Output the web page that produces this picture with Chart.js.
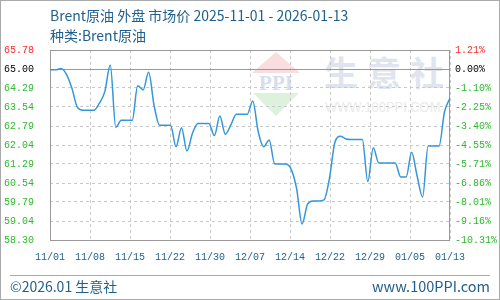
<!DOCTYPE html>
<html>
<head>
<meta charset="utf-8">
<script src="https://cdn.jsdelivr.net/npm/chart.js"></script>
<style>
  html, body { margin: 0; padding: 0; background: #fff; }
  #wrap { position: relative; width: 500px; height: 300px; overflow: hidden; }
  #frame { position: absolute; left: 0; top: 0; width: 500px; height: 300px; box-sizing: border-box; border: 1px solid #aaa; z-index: 3; }
  #chart { position: absolute; left: 0; top: 0; z-index: 1; }
  .txt { position: absolute; z-index: 2; white-space: nowrap; color: #1f5f8b;
         font-family: 'Noto Sans CJK SC', 'Noto Sans', sans-serif; font-size: 14px; line-height: 20px; }
  .wm { position: absolute; z-index: 0; white-space: nowrap; }
  #footLine { position: absolute; left: 10px; top: 275px; width: 480px; height: 1px; background: #aaa; z-index: 2; }
</style>
</head>
<body>
<div id="wrap">
  <!-- watermark -->
  <svg class="wm" width="50" height="66" style="left:251px;top:51px">
    <polygon points="25,1 49,22 1,22" fill="#f8dede"/>
    <text x="25" y="39" text-anchor="middle" font-family="Liberation Serif" font-weight="bold" font-size="21" fill="#d7deeb">PPI</text>
    <polygon points="2,42 48,42 25,65" fill="#ddf1dd"/>
  </svg>
  <div class="wm" style="left:324px;top:54px;font-family:'Noto Sans CJK SC';font-weight:bold;font-size:34px;line-height:36px;letter-spacing:9px;color:#dfe4ee">生意社</div>
  <div class="wm" style="left:325px;top:98px;font-family:'Liberation Sans';font-size:15px;line-height:18px;color:#ebebeb;transform:scaleX(0.86);transform-origin:left top">WWW.100PPI.COM</div>

  <canvas id="chart" width="500" height="300"></canvas>

  <div class="txt" style="left:50px;top:5px">Brent原油 外盘 市场价 2025-11-01 - 2026-01-13</div>
  <div class="txt" style="left:50px;top:25px">种类:Brent原油</div>
  <div id="footLine"></div>
  <div class="txt" style="left:10px;top:276px">©2026.01 生意社</div>
  <div class="txt" style="right:10px;top:276px;font-size:14.5px">www.100PPI.com</div>
  <div id="frame"></div>
</div>

<script>
// daily price, 2025-11-01 .. 2026-01-13
const prices = [
  65.00, 65.00, 65.05, 64.82, 64.27, 63.52, 63.41, 63.41, 63.41, 63.68,
  64.14, 65.19, 62.74, 63.01, 63.01, 63.01, 64.37, 64.21, 64.90, 63.59,
  62.82, 62.82, 62.82, 61.97, 62.72, 61.80, 62.50, 62.89, 62.89, 62.89,
  62.41, 63.18, 62.46, 62.83, 63.25, 63.25, 63.25, 63.77, 62.56, 61.97,
  62.24, 61.30, 61.29, 61.29, 61.09, 60.33, 58.93, 59.71, 59.84, 59.84,
  59.88, 60.73, 62.15, 62.38, 62.28, 62.26, 62.26, 62.26, 60.60, 61.93,
  61.33, 61.33, 61.33, 61.33, 60.78, 60.78, 61.75, 60.82, 59.99, 62.00,
  62.00, 62.00, 63.35, 63.89
];
const xLabels = ['11/01', '11/08', '11/15', '11/22', '11/30', '12/07', '12/14', '12/22', '12/29', '01/05', '01/13'];
const leftLabels = ['58.30', '59.04', '59.79', '60.54', '61.29', '62.04', '62.79', '63.54', '64.29', '65.00', '65.78'];
const rightLabels = ['-10.31%', '-9.16%', '-8.01%', '-6.86%', '-5.71%', '-4.55%', '-3.40%', '-2.25%', '-1.10%', '0.00%', '1.21%'];
const yMin = 58.30;
const yMax = 65.78;
const baseIndex = leftLabels.indexOf('65.00');

const lastDay = prices.length - 1;
const xTickValues = xLabels.map((_, i) => i * lastDay / (xLabels.length - 1));
const yTickValues = leftLabels.map((_, i) => yMin + i * (yMax - yMin) / (leftLabels.length - 1));

const tickFont = { family: "'Liberation Mono', 'DejaVu Sans Mono', monospace", size: 10 };

function labelColor(ctx) {
  if (ctx.index === leftLabels.length - 1) return '#ff2a2a';
  if (ctx.index === baseIndex) return '#000000';
  return '#2eb82e';
}

// frame round the plot and the solid 0% line
const plotFrame = {
  id: 'plotFrame',
  beforeDatasetsDraw(chart) {
    const { ctx, chartArea: a, scales } = chart;
    const yBase = Math.round(scales.y.getPixelForTick(baseIndex)) + 0.5;
    ctx.save();
    ctx.strokeStyle = '#999';
    ctx.lineWidth = 1;
    ctx.beginPath();
    ctx.moveTo(a.left, yBase);
    ctx.lineTo(a.right, yBase);
    ctx.stroke();
    ctx.strokeRect(Math.round(a.left) + 0.5, Math.round(a.top) + 0.5,
                   Math.round(a.width) - 1, Math.round(a.height));
    ctx.restore();
  }
};

new Chart(document.getElementById('chart'), {
  type: 'line',
  data: {
    datasets: [{
      data: prices.map((v, i) => ({ x: i, y: v })),
      borderColor: '#3497d8',
      borderWidth: 1.5,
      pointRadius: 0,
      fill: false,
      cubicInterpolationMode: 'monotone'
    }]
  },
  options: {
    responsive: false,
    devicePixelRatio: 1,
    animation: false,
    layout: { padding: { top: 50, left: 0, right: 0, bottom: 0 } },
    scales: {
      x: {
        type: 'linear',
        min: 0,
        max: lastDay,
        afterBuildTicks: axis => { axis.ticks = xTickValues.map(v => ({ value: v })); },
        afterFit: axis => { axis.height = 60; },
        ticks: {
          autoSkip: false,
          maxRotation: 0,
          padding: 11,
          color: '#1f5f8b',
          font: tickFont,
          callback: (v, i) => xLabels[i]
        },
        grid: { color: '#c8c8c8', drawTicks: false },
        border: { display: false, dash: [3, 3] }
      },
      y: {
        position: 'left',
        min: yMin,
        max: yMax,
        afterBuildTicks: axis => { axis.ticks = yTickValues.map(v => ({ value: v })); },
        afterFit: axis => { axis.width = 50; },
        ticks: {
          autoSkip: false,
          padding: 16,
          color: labelColor,
          font: tickFont,
          callback: (v, i) => leftLabels[i]
        },
        grid: { color: '#c8c8c8', drawTicks: false },
        border: { display: false, dash: [3, 3] }
      },
      y1: {
        position: 'right',
        min: yMin,
        max: yMax,
        afterBuildTicks: axis => { axis.ticks = yTickValues.map(v => ({ value: v })); },
        afterFit: axis => { axis.width = 50; },
        ticks: {
          autoSkip: false,
          padding: 5,
          color: labelColor,
          font: tickFont,
          callback: (v, i) => rightLabels[i]
        },
        grid: { drawOnChartArea: false, drawTicks: false },
        border: { display: false }
      }
    },
    plugins: {
      legend: { display: false },
      tooltip: { enabled: false },
      title: { display: false }
    }
  },
  plugins: [plotFrame]
});
</script>
</body>
</html>
